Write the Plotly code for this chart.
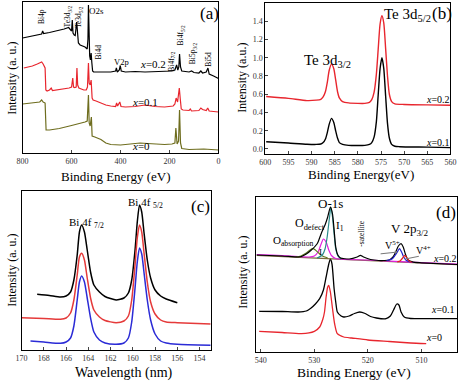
import plotly.graph_objects as go

W, H = 474, 381
SERIF = "Liberation Serif, Times New Roman, Tinos, DejaVu Serif, serif"

# ---------------- Panel (a): survey spectra ----------------
a_E_x02 = [800, 760, 730, 722, 718, 714, 690, 660, 630, 612, 606, 600, 597, 594, 589, 585, 579, 576, 572, 565,
           555, 545, 536, 533, 531, 529, 526, 523, 520, 517, 514, 510, 480, 440, 420, 417, 413, 405, 401, 397,
           380, 340, 300, 260, 220, 190, 178, 171, 166, 162, 159, 155, 150, 120, 110, 100, 80, 72, 65, 50,
           43, 38, 20, 0]
a_I_x02 = [115, 117, 118.5, 119, 122, 119.5, 120.5, 122, 124, 125.5, 124, 122, 133, 120, 118, 117.5, 131, 122, 110, 108,
           107, 106, 104, 114, 148, 120, 97, 93, 100, 90, 82, 81, 81, 81, 82, 85, 81, 83, 87.5, 82,
           81, 81.5, 81, 81.5, 81.5, 82, 83, 88, 83, 86, 99, 86, 82, 81, 82, 80.5, 80, 82, 80, 81,
           85, 79, 77, 74.5]

a_E_x01 = [795, 760, 740, 726, 722, 716, 712, 708, 705, 700, 690, 683, 678, 660, 640, 610, 600, 595, 592, 587,
           581, 578, 575, 570, 560, 550, 540, 535, 531, 528, 524, 520, 516, 512, 500, 480, 460, 440, 420, 416,
           412, 403, 398, 380, 340, 300, 260, 220, 185, 178, 173, 167, 160, 156, 152, 145, 120, 115, 110, 80,
           72, 65, 50, 44, 38, 20, 0]
a_I_x01 = [85, 87, 89, 90.5, 91, 89, 87, 85, 63, 62, 63, 65, 62.5, 63, 63.5, 65, 66, 75, 66, 65.5,
           66, 85, 68, 65, 64, 63, 63, 66, 90, 70, 68, 73, 55, 53, 52, 50, 48, 47, 46.5, 50,
           47, 51, 46.5, 46, 46.5, 48, 46.5, 46, 47, 49, 55, 51, 65, 54, 44, 43, 42.5, 44, 42, 42.5,
           45, 43.5, 42.5, 45, 42, 41.5, 41]

a_E_x0 = [800, 760, 730, 722, 716, 708, 704, 690, 650, 600, 570, 545, 536, 531, 528, 524, 519, 516, 505, 480,
          460, 440, 400, 360, 320, 290, 250, 220, 190, 178, 174, 169, 163, 159, 155, 150, 120, 60, 0]
a_I_x0 = [49, 50, 51, 53, 51, 50, 23, 23, 24.5, 27.5, 29, 31, 32, 58, 30, 27, 36, 17, 16, 13.5,
          10, 8.5, 8, 9, 10, 9.5, 8.5, 8.5, 9, 10, 25, 9, 12, 43, 10, 4.5, 3.5, 4, 3]

a_xticks = [800, 600, 400, 200, 0]

# ---------------- Panel (b): Te 3d ----------------
b_E_x01 = [599.8, 595, 591, 589, 588, 587.5, 587, 586.6, 586.2, 585.7, 585.2, 584.8, 584.4, 584, 583.3, 582, 580,
           578.5, 577.5, 577, 576.5, 576, 575.6, 575.2, 574.8, 574.4, 574, 573.6, 573.2, 572.7, 572, 571, 565, 560]
b_I_x01 = [0.08, 0.065, 0.052, 0.05, 0.055, 0.07, 0.11, 0.18, 0.27, 0.335, 0.29, 0.20, 0.12, 0.07, 0.05, 0.04, 0.038,
           0.04, 0.05, 0.07, 0.13, 0.30, 0.60, 0.88, 1.0, 0.88, 0.58, 0.28, 0.12, 0.05, 0.03, 0.025, 0.02, 0.015]

b_E_x02 = [599.8, 595, 591, 589, 588, 587.5, 587, 586.6, 586.2, 585.7, 585.2, 584.8, 584.4, 584, 583.3, 582, 580,
           578.5, 577.5, 577, 576.5, 576, 575.6, 575.2, 574.8, 574.4, 574, 573.6, 573.2, 572.7, 572, 570, 565, 560]
b_I_x02 = [0.575, 0.555, 0.53, 0.535, 0.545, 0.57, 0.63, 0.73, 0.86, 0.93, 0.88, 0.76, 0.63, 0.56, 0.52, 0.505, 0.50,
           0.50, 0.51, 0.54, 0.62, 0.82, 1.10, 1.37, 1.46, 1.38, 1.10, 0.80, 0.60, 0.52, 0.495, 0.488, 0.483, 0.48]

b_xticks = [600, 595, 590, 585, 580, 575, 570, 565, 560]
b_yticks = [0.0, 0.2, 0.4, 0.6, 0.8, 1.0, 1.2, 1.4, 1.6]

# ---------------- Panel (c): Bi 4f ----------------
c_E_black = [168.6, 167.5, 166.5, 166, 165.6, 165.3, 165.0, 164.8, 164.6, 164.35, 164.1, 163.8, 163.5, 163, 162.5,
             161.5, 160.8, 160.4, 160.1, 159.8, 159.6, 159.4, 159.2, 159.0, 158.7, 158.4, 158.0, 157.5, 157, 156]
c_I_black = [55.7, 54.5, 53, 54, 58, 70, 95, 118, 125, 118, 100, 78, 65, 58, 53.5,
             50, 52, 57, 70, 100, 128, 145, 138, 118, 90, 72, 60, 54, 51, 47.3]

c_E_red = [170, 168, 166.5, 166, 165.6, 165.3, 165.0, 164.8, 164.6, 164.35, 164.1, 163.8, 163.5, 163, 162.5,
           161.5, 160.8, 160.4, 160.1, 159.8, 159.6, 159.4, 159.2, 159.0, 158.7, 158.4, 158.0, 157.5, 157, 156, 153]
c_I_red = [32.3, 31.5, 30.7, 32, 37, 50, 75, 93, 96.7, 90, 72, 52, 40, 33, 29.5,
           27.3, 29, 34, 50, 85, 112, 125, 118, 98, 68, 48, 36, 30, 28, 27.3, 26]

c_E_blue = [169.2, 168, 166.5, 166, 165.6, 165.3, 165.0, 164.8, 164.6, 164.35, 164.1, 163.8, 163.5, 163, 162.5,
            161.5, 160.8, 160.4, 160.1, 159.8, 159.6, 159.4, 159.2, 159.0, 158.7, 158.4, 158.0, 157.5, 157, 156, 153]
c_I_blue = [9, 8, 6.7, 8, 12, 24, 50, 68, 74, 68, 52, 32, 18, 10, 7,
            5.7, 7, 12, 28, 62, 88, 102, 96, 78, 50, 30, 16, 9, 7, 5.7, 4.7]

c_xticks = [170, 168, 166, 164, 162, 160, 158, 156, 154]

# ---------------- Panel (d): O 1s / V 2p ----------------
d_E_x01 = [540.3, 536, 533, 531.5, 530.6, 529.8, 529, 528.3, 527.8, 527.3, 527.0, 526.7, 526.3, 526.0, 525.7, 525,
           524.5, 523.5, 522.5, 521.5, 520.5, 519.5, 518.4, 516.6, 515.8, 515.2, 514.6, 514.2, 513.8, 513.2, 512,
           508, 503.3]
d_I_x01 = [40.7, 40.5, 40, 41, 44, 48, 53.3, 62, 75, 88, 93, 88, 63, 50, 40, 36,
           35, 36, 38.5, 40, 38.5, 35.5, 34, 33.3, 36, 42, 48, 47, 40, 35, 33.5,
           33.3, 33.3]

d_E_x0 = [540.3, 536, 532.4, 530, 529, 528.4, 528.1, 527.8, 527.5, 527.3, 527.0, 526.6, 526.2, 525.7, 524.5, 523,
          520, 516, 512, 509.1]
d_I_x0 = [20.7, 19.5, 18.3, 20.7, 25, 33, 40, 55, 65, 66.7, 60, 43.3, 28, 18.3, 15, 14,
          12, 10.5, 9, 8.3]

d_E_base = [540.8, 530, 520, 510, 503.3]
d_I_base = [96.7, 94.0, 91.5, 89.0, 87.3]

d_E_abs = [533.5, 532.5, 531.5, 530.8, 530.3, 529.8, 529.2, 528.5, 527.5]
d_I_abs = [95, 96, 99, 102, 103.3, 102, 99, 96, 94]

d_E_def = [540.8, 538, 536, 533, 531, 530, 529.3, 528.8, 528.3, 527.8, 527.3, 526.8, 526, 520, 510, 503.3]
d_I_def = [97.5, 97, 96.5, 95.5, 95, 96, 100, 107, 113, 110, 102, 96.5, 93.5, 92, 89.3, 87.8]

d_E_lat = [529.5, 528.5, 528, 527.6, 527.2, 526.9, 526.6, 526.3, 526, 525.6, 525]
d_I_lat = [94, 97, 103, 115, 133, 145, 135, 118, 103, 96, 93]

d_E_x02 = [540.8, 536, 533, 532.4, 531.5, 530.6, 529.5, 529.3, 528.6, 528.0, 527.5, 527.0, 526.6, 526.3, 526.0,
           525.6, 525.1, 523.5, 522, 521.4, 520.8, 519.5, 518, 517, 516, 515.3, 514.8, 514.3, 513.8, 513.4, 513,
           512.5, 511.5, 510, 503.3]
d_I_x02 = [97, 96, 95, 95.5, 98, 101.7, 108, 110, 120, 127, 135, 145, 138, 122, 105,
           97, 94, 93, 95, 96.7, 95, 92.5, 91.5, 91.5, 92, 95, 100, 106, 108.3, 105, 98,
           92, 89.8, 89.2, 87.5]

d_E_v5 = [516.5, 515.5, 515, 514.5, 514.1, 513.7, 513.3, 512.8, 512]
d_I_v5 = [91.5, 93, 96, 100, 103.3, 100, 95, 91.5, 90]

d_E_v4 = [514.5, 514, 513.5, 513.1, 512.7, 512.3, 511.8]
d_I_v4 = [90.2, 91, 94, 96.7, 94, 91, 89.8]

d_xticks = [540, 530, 520, 510]

# ---------------- figure ----------------
fig = go.Figure()


def add(x, y, color, xa, ya, width=1.2, shape="linear"):
    line = dict(color=color, width=width, shape=shape)
    if shape == "spline":
        line["smoothing"] = 0.6
    fig.add_trace(go.Scatter(x=x, y=y, mode="lines", line=line,
                             xaxis=xa, yaxis=ya, showlegend=False, hoverinfo="skip"))


OLIVE = "#6e6d1e"
RED = "#e8262e"
add(a_E_x02, a_I_x02, "black", "x", "y")
add(a_E_x01, a_I_x01, RED, "x", "y")
add(a_E_x0, a_I_x0, OLIVE, "x", "y")

add(b_E_x02, b_I_x02, RED, "x2", "y2", 1.4, "spline")
add(b_E_x01, b_I_x01, "black", "x2", "y2", 1.4, "spline")

add(c_E_black, c_I_black, "black", "x3", "y3", 1.5, "spline")
add(c_E_red, c_I_red, "#e53a3a", "x3", "y3", 1.5, "spline")
add(c_E_blue, c_I_blue, "#2b2bd6", "x3", "y3", 1.5, "spline")

add(d_E_x0, d_I_x0, RED, "x4", "y4", 1.3, "spline")
add(d_E_x01, d_I_x01, "black", "x4", "y4", 1.3, "spline")
add(d_E_base, d_I_base, "#7a6a3a", "x4", "y4", 1.2)
add(d_E_def, d_I_def, "#e020e0", "x4", "y4", 1.2, "spline")
add(d_E_abs, d_I_abs, "#5f7a22", "x4", "y4", 1.2, "spline")
add(d_E_lat, d_I_lat, "#2a8a8a", "x4", "y4", 1.2, "spline")
add(d_E_x02, d_I_x02, "black", "x4", "y4", 1.2, "spline")
add(d_E_v5, d_I_v5, "#2020cc", "x4", "y4", 1.2, "spline")
add(d_E_v4, d_I_v4, "#e02020", "x4", "y4", 1.2, "spline")


def xdom(l, r):
    return [l / W, r / W]


def ydom(t, b):
    return [1 - b / H, 1 - t / H]


tickfont = dict(family=SERIF, size=8, color="#333")
frame = dict(showline=True, mirror=True, linecolor="black", linewidth=1, showgrid=False, zeroline=False)

fig.update_layout(
    width=W, height=H, margin=dict(l=0, r=0, t=0, b=0),
    paper_bgcolor="white", plot_bgcolor="white",
    font=dict(family=SERIF, color="black"),
    xaxis=dict(domain=xdom(17, 218), range=[800, 0], anchor="y", tickvals=a_xticks,
               ticks="inside", ticklen=3, tickfont=tickfont, **frame),
    yaxis=dict(domain=ydom(2, 153), range=[0, 151], anchor="x", showticklabels=False, ticks="", **frame),
    xaxis2=dict(domain=xdom(266, 456), range=[600, 560], anchor="y2", tickvals=b_xticks,
                ticks="inside", ticklen=3, tickfont=tickfont, **frame),
    yaxis2=dict(domain=ydom(3, 154), range=[-0.055, 1.6], anchor="x2", tickvals=b_yticks,
                tickformat=".1f", ticks="inside", ticklen=3, tickfont=tickfont, **frame),
    xaxis3=dict(domain=xdom(16, 210), range=[170, 153], anchor="y3", tickvals=c_xticks,
                ticks="inside", ticklen=3, tickfont=tickfont, **frame),
    yaxis3=dict(domain=ydom(191, 350), range=[0, 159], anchor="x3", showticklabels=False, ticks="", **frame),
    xaxis4=dict(domain=xdom(257, 463), range=[540.8, 503.3], anchor="y4", tickvals=d_xticks,
                ticks="inside", ticklen=3, tickfont=tickfont, **frame),
    yaxis4=dict(domain=ydom(197, 352), range=[0, 155], anchor="x4", showticklabels=False, ticks="", **frame),
)

anns = []


def ann(text, px, py, size, angle=0, xanchor="center"):
    anns.append(dict(text=text, x=px / W, y=1 - py / H, xref="paper", yref="paper", showarrow=False,
                     font=dict(family=SERIF, size=size, color="black"), textangle=angle,
                     xanchor=xanchor, yanchor="middle"))


# panel a
ann("Bi4p", 37, 17, 7.5, -90)
ann("Te3d<sub>3/2</sub>", 64, 16, 7.5, -90)
ann("Te3d<sub>5/2</sub>", 75, 17, 7.5, -90)
ann("O2s", 93, 11, 9)
ann("Bi4d", 94, 52, 7.5, -90)
ann("V2p", 118, 62, 8.5)
ann("<i>x</i>=0.2", 151, 64, 11)
ann("Bi4f<sub>7/2</sub>", 170, 62, 7.5, -90)
ann("Bi4f<sub>5/2</sub>", 180, 35, 7.5, -90)
ann("Bi5p<sub>3/2</sub>", 192, 53, 7.5, -90)
ann("Bi5d", 208, 59, 7.5, -90)
ann("(a)", 209, 13, 17)
ann("<i>x</i>=0.1", 143, 102, 11)
ann("<i>x</i>=0", 138, 146, 11)
ann("Intensity (a. u.)", 6, 78, 12, -90)
ann("Binding Energy (eV)", 113, 176, 13)

# panel b
ann("Te 3d<sub>3/2</sub>", 330, 61, 15)
ann("Te 3d<sub>5/2</sub>", 412, 15, 15)
ann("(b)", 447, 14, 17)
ann("<i>x</i>=0.2", 443, 99, 10)
ann("<i>x</i>=0.1", 443, 142, 10)
ann("Intensity (a.u.)", 242, 78, 12, -90)
ann("Binding Energy(eV)", 364, 175, 13)

# panel c
ann("Bi 4f <sub>7/2</sub>", 83, 223, 11)
ann("Bi 4f <sub>5/2</sub>", 143, 203, 11)
ann("(c)", 200, 206, 17)
ann("Intensity (a. u.)", 6, 270, 12, -90)
ann("Wavelength (nm)", 121, 373, 14)

# panel d
ann("O-1s", 333, 203, 13)
ann("O<sub>defect</sub>", 312, 224, 12)
ann("I<sub>1</sub>", 343, 226, 11)
ann("O<sub>absorption</sub>", 295, 241, 11)
ann("I", 323, 252, 9)
ann("-satellite", 364, 234, 7.5, -90)
ann("V 2p<sub>3/2</sub>", 414, 229, 13)
ann("V<sup>5+</sup>", 397, 245, 10)
ann("V<sup>4+</sup>", 428, 250, 10)
ann("(d)", 451, 212, 17)
ann("<i>x</i>=0.2", 450, 258, 10)
ann("<i>x</i>=0.1", 448, 309, 10)
ann("<i>x</i>=0", 439, 337, 10)
ann("Intensity (a. u.)", 243, 272, 12, -90)
ann("Binding Energy (eV)", 357, 372, 13.5)

# gray pointer lines in panel d
anns.append(dict(x=514.4, y=100, xref="x4", yref="y4", ax=517.9, ay=98, axref="x4", ayref="y4",
                 showarrow=True, arrowhead=2, arrowsize=0.6, arrowwidth=1, arrowcolor="#777", text=""))
anns.append(dict(x=513.0, y=93, xref="x4", yref="y4", ax=510.2, ay=96, axref="x4", ayref="y4",
                 showarrow=True, arrowhead=0, arrowwidth=1, arrowcolor="#777", text=""))

fig.update_layout(annotations=anns)
fig.write_html("out.html")
